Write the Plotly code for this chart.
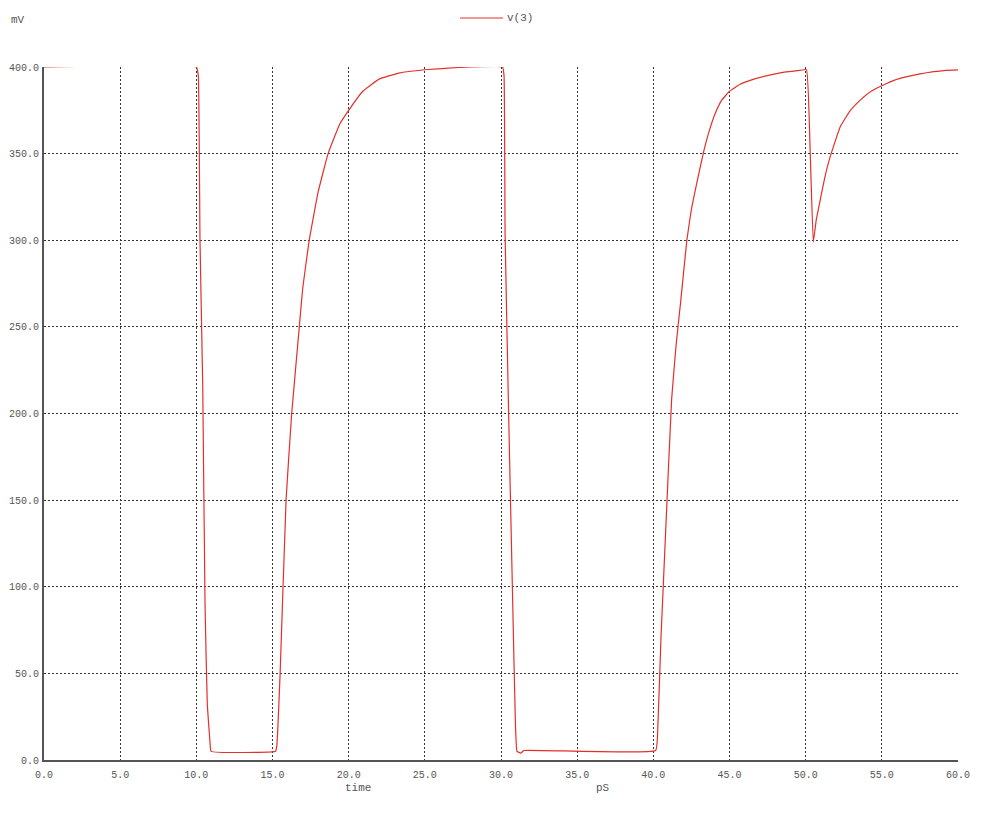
import plotly.graph_objects as go

# time in pS, voltage in mV
time_ps = [0.0, 10.0, 10.13, 10.24, 10.42, 10.57, 10.72, 10.9, 10.97,
           15.2, 15.28, 15.5, 15.89, 16.26, 16.76, 16.98, 17.41, 18.0, 18.65,
           19.41, 20.0, 20.93, 22.0, 23.3, 25.0, 27.2, 30.1,
           30.2, 30.27, 30.5, 30.77, 30.95, 31.05, 31.3, 31.5,
           40.15, 40.3, 40.5, 40.9, 41.2, 41.5, 41.8, 42.2, 42.5, 42.9, 43.3, 43.7,
           44.1, 44.5, 45.0, 45.7, 46.6, 47.7, 48.7, 49.6, 50.05,
           50.3, 50.5, 50.7, 50.95, 51.25, 51.6, 52.27, 52.9, 53.6, 54.3, 55.1,
           55.8, 56.65, 57.5, 58.4, 59.2, 60.0]
v3_mv = [400.0, 400.0, 395.0, 300.0, 216.0, 90.0, 32.0, 10.0, 5.0,
         5.0, 8.0, 50.0, 150.0, 200.0, 250.0, 272.0, 300.0, 328.0, 350.0,
         367.0, 375.0, 386.0, 393.0, 396.5, 398.4, 399.7, 400.0,
         395.0, 303.0, 200.0, 90.0, 20.0, 5.0, 4.0, 5.5,
         5.5, 20.0, 70.0, 150.0, 208.0, 240.0, 265.0, 300.0, 318.0, 335.0, 351.0, 364.0,
         374.0, 381.0, 386.0, 390.0, 393.0, 395.5, 397.2, 398.0, 398.5,
         350.0, 299.0, 312.0, 323.0, 336.0, 348.0, 365.5, 374.5, 381.0, 386.0, 389.6,
         392.3, 394.4, 396.0, 397.3, 398.0, 398.3]

x_ticks = [0, 5, 10, 15, 20, 25, 30, 35, 40, 45, 50, 55, 60]
y_ticks = [0, 50, 100, 150, 200, 250, 300, 350, 400]
series_name = "v(3)"

FONT = "Liberation Mono"
TXT = "#555555"
RED = "#e2302a"

# page has an 8px body offset; figure sized to fit the window
W, H = 974, 805
L, T = 36, 59
PW, PH = 914, 693


def px(xp):
    return (xp - 8 - L) / PW


def py(yp):
    return 1 + (T + 8 - yp) / PH


fig = go.Figure()
fig.add_trace(go.Scatter(x=time_ps, y=v3_mv, mode="lines", name=series_name,
                         line=dict(color=RED, width=1.2, shape="spline", smoothing=0.3),
                         showlegend=False))

fig.update_layout(
    width=W, height=H,
    margin=dict(l=L, r=W - L - PW, t=T, b=H - T - PH),
    paper_bgcolor="white", plot_bgcolor="white",
    font=dict(family=FONT, size=11, color=TXT),
    showlegend=False,
    shapes=[
        dict(type="line", xref="paper", yref="paper",
             x0=px(460), x1=px(503), y0=py(18), y1=py(18),
             line=dict(color=RED, width=1.2)),
    ],
    annotations=[
        dict(text=series_name, xref="paper", yref="paper", x=px(505), y=py(18),
             showarrow=False, xanchor="left", yanchor="middle",
             font=dict(family=FONT, size=11, color=TXT)),
        dict(text="mV", xref="paper", yref="paper", x=px(18), y=py(20),
             showarrow=False, xanchor="center", yanchor="middle",
             font=dict(family=FONT, size=11, color=TXT)),
        dict(text="time", xref="x", yref="paper", x=20.6, y=py(788),
             showarrow=False, xanchor="center", yanchor="middle",
             font=dict(family=FONT, size=11, color=TXT)),
        dict(text="pS", xref="x", yref="paper", x=36.7, y=py(788),
             showarrow=False, xanchor="center", yanchor="middle",
             font=dict(family=FONT, size=11, color=TXT)),
    ],
)

fig.update_xaxes(range=[0, 60], tickvals=x_ticks, tickformat=".1f", automargin=False,
                 showgrid=True, gridcolor="#333333", gridwidth=1, griddash="2px,2px",
                 showline=True, linecolor="#555555", linewidth=2,
                 zeroline=False, ticks="", ticklabelstandoff=4,
                 tickfont=dict(family=FONT, size=10, color=TXT))
fig.update_yaxes(range=[0, 400], tickvals=y_ticks, tickformat=".1f", automargin=False,
                 showgrid=True, gridcolor="#333333", gridwidth=1, griddash="2px,2px",
                 showline=True, linecolor="#555555", linewidth=2,
                 zeroline=False, ticks="", ticklabelstandoff=1,
                 tickfont=dict(family=FONT, size=10, color=TXT))

fig.write_html("out.html")
